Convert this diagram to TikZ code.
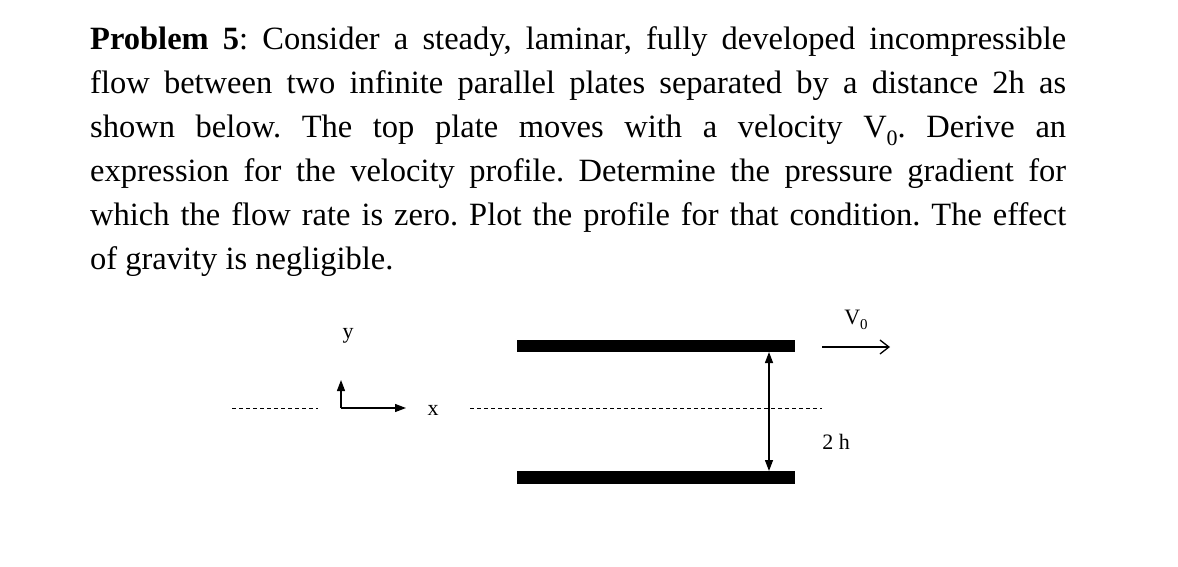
\documentclass[tikz,border=0pt]{standalone}
\usepackage{fontspec}
\setmainfont{Liberation Serif}
\usetikzlibrary{arrows.meta}
\newcommand{\subz}{\raisebox{-0.25em}{\fontsize{22}{22}\selectfont 0}}
\newcommand{\jline}[1]{\hbox to 976pt{#1}}
\begin{document}
\begin{tikzpicture}[x=1pt,y=-1pt,
  plate/.style={fill=black,draw=none},
  dashline/.style={dash pattern=on 4pt off 3pt,line width=1pt},
  arr/.style={-{Triangle[length=11pt,width=8pt]},line width=1.3pt},
  lbl/.style={font=\fontsize{22}{24}\selectfont,inner sep=0pt}]
\useasboundingbox (0,0) rectangle (1178,567);
\node[anchor=north west,inner sep=0pt,align=left,
  font=\fontsize{32.5}{44}\selectfont\frenchspacing] (txt) at (90,26)
{\vbox{\baselineskip=44pt
\jline{\textbf{Problem 5}: Consider a steady, laminar, fully developed incompressible}
\jline{flow between two infinite parallel plates separated by a distance 2h as}
\jline{shown below. The top plate moves with a velocity V\subz. Derive an}
\jline{expression for the velocity profile. Determine the pressure gradient for}
\jline{which the flow rate is zero. Plot the profile for that condition. The effect}
\hbox{of gravity is negligible.}}};
\fill[plate] (517,340) rectangle (795,352);
\fill[plate] (517,471) rectangle (795,484);
\coordinate (dl1) at (232,408); \coordinate (dl2) at (318,408);
\coordinate (dr1) at (470,408); \coordinate (dr2) at (822,408);
\draw[dashline] (dl1) -- (dl2);
\draw[dashline] (dr1) -- (dr2);
\coordinate (o) at (341,408);
\coordinate (ya) at (341,380); \coordinate (xa) at (406,408);
\draw[arr] (o) -- (ya);
\draw[arr] (o) -- (xa);
\node[lbl] (y) at (348,336) {y};
\node[lbl] (x) at (433,410) {x};
\coordinate (t) at (769,352); \coordinate (b) at (769,471);
\draw[{Triangle[length=11pt,width=8pt]}-{Triangle[length=11pt,width=8pt]},line width=1.3pt] (t) -- (b);
\node[lbl] (h) at (836,442) {2 h};
\node[lbl] (v) at (856,320) {V\raisebox{-0.2em}{\fontsize{15}{15}\selectfont 0}};
\coordinate (v1) at (822,347); \coordinate (v2) at (890,347);
\draw[-{Straight Barb[length=9pt,width=14pt]},line width=1.3pt] (v1) -- (v2);
\end{tikzpicture}
\end{document}
